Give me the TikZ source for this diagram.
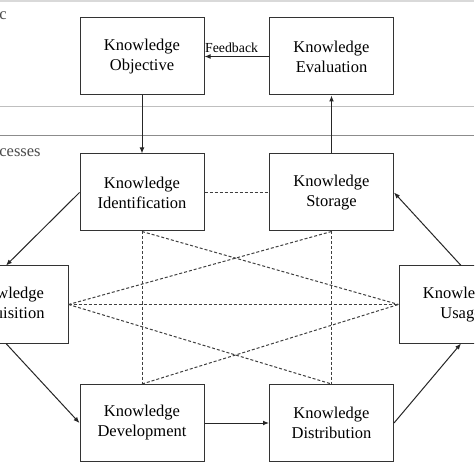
\documentclass[tikz,border=0pt]{standalone}
\usepackage{fontspec}
\setmainfont{Liberation Serif}
\usetikzlibrary{arrows.meta}
\tikzset{
  kbox/.style={draw=black!80, line width=0.5pt, fill=white, minimum width=62pt, minimum height=38.5pt, align=center, inner sep=0pt, font=\fontsize{8.25}{10}\selectfont},
  flow/.style={draw=black!85, line width=0.5pt, -{Latex[length=3pt,width=2.4pt]}},
  link/.style={draw=black!75, line width=0.5pt, dash pattern=on 1.5pt off 1pt},
}
\begin{document}
\begin{tikzpicture}[x=0.5pt,y=-0.5pt]
\useasboundingbox (0,0) rectangle (474,474);
\clip (0,0) rectangle (474,474);
\fill[white] (0,0) rectangle (474,474);
% layer borders
\draw[black!15, line width=1pt] (0,1) -- (474,1);
\draw[black!25, line width=0.5pt] (0,107) -- (474,107);
\draw[black!45, line width=0.5pt] (0,136) -- (474,136);
\node[anchor=base east, inner sep=0pt, text=black!70, font=\fontsize{8.25}{10}\selectfont] (strat) at (7,20) {Strategic};
\node[anchor=base east, inner sep=0pt, text=black!70, font=\fontsize{8.25}{10}\selectfont] (proc) at (41,157) {Processes};
% boxes
\node[kbox] (obj) at (142,56.5) {Knowledge\\Objective};
\node[kbox] (eva) at (331.5,56.5) {Knowledge\\Evaluation};
\node[kbox] (ide) at (142,192.5) {Knowledge\\Identification};
\node[kbox] (sto) at (331.5,192.5) {Knowledge\\Storage};
\node[kbox] (acq) at (6,304.5) {Knowledge\\Acquisition};
\node[kbox] (usa) at (461,304.5) {Knowledge\\Usage};
\node[kbox] (dev) at (142,423) {Knowledge\\Development};
\node[kbox] (dis) at (331.5,423) {Knowledge\\Distribution};
% dashed links
\draw[link] (ide) -- (sto);
\draw[link] (ide) -- (dev);
\draw[link] (sto) -- (dis);
\draw[link] (acq) -- (usa);
\draw[link] (ide.south) -- (usa.west);
\draw[link] (sto.south) -- (acq.east);
\draw[link] (acq.east) -- (dis.north);
\draw[link] (dev.north) -- (usa.west);
% process cycle
\draw[flow] (obj) -- (ide);
\draw[flow] (sto) -- (eva);
\draw[flow] (eva) -- node[pos=0.58, anchor=base, yshift=2pt, inner sep=0pt, font=\fontsize{6.9}{8}\selectfont] (fb) {Feedback} (obj);
\draw[flow] (ide.west) -- (acq.north);
\draw[flow] (acq.south) -- (dev.west);
\draw[flow] (dev) -- (dis);
\draw[flow] (dis.east) -- (usa.south);
\draw[flow] (usa.north) -- (sto.east);
\end{tikzpicture}
\end{document}
